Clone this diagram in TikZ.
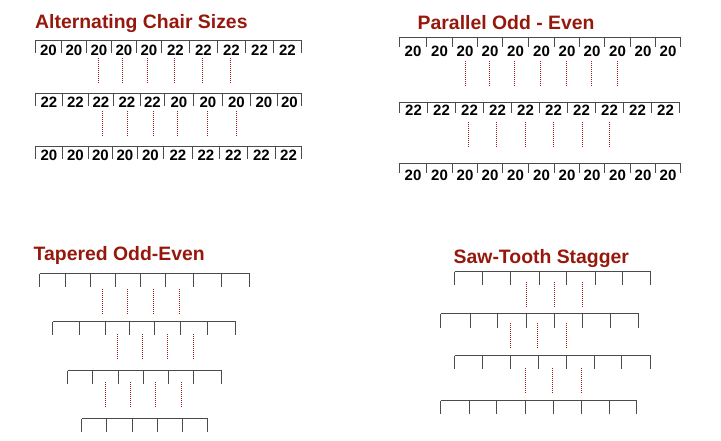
\documentclass[tikz,border=0pt]{standalone}
\usepackage{fontspec}
\setmainfont{Liberation Sans}
\definecolor{titleRed}{RGB}{150,24,12}
\definecolor{aisleRed}{RGB}{165,30,30}
\definecolor{seatGray}{RGB}{75,75,75}
\tikzstyle{seatLine}=[draw=seatGray, line width=1pt]
\tikzstyle{aisleDots}=[draw=aisleRed, line width=1.6pt, dash pattern=on 1pt off 1pt]
\tikzstyle{titleStyle}=[anchor=base west, inner sep=0pt, text=titleRed, font=\fontsize{19.4}{19.4}\selectfont\bfseries]
\tikzstyle{sizeStyle}=[anchor=base, inner sep=0pt, font=\fontsize{15}{15}\selectfont\bfseries]

\begin{document}
\begin{tikzpicture}[x=1pt, y=-1pt]
\useasboundingbox (0,0) rectangle (721,441);

% alternating chair sizes
\node[titleStyle] (t1) at (35,28.5) {Alternating Chair Sizes};
\foreach \l/\r/\n [count=\i] in {35.5/61.5/20, 61.5/86.5/20, 86.5/111.5/20, 111.5/136.5/20, 136.5/161.5/20, 161.5/189.5/22, 189.5/217.5/22, 217.5/245.5/22, 245.5/273.5/22, 273.5/301.5/22}
  {\draw[seatLine] (\l,53) -- (\l,40.5) -- (\r,40.5) -- (\r,53);
   \node[sizeStyle] (aR1v\i) at ({(\l+\r)/2},56) {\n};}
\foreach \l/\r/\n [count=\i] in {35.5/62.5/22, 62.5/88.5/22, 88.5/113.5/22, 113.5/140.5/22, 140.5/164.5/22, 164.5/193.5/20, 193.5/222.5/20, 222.5/250.5/20, 250.5/277.5/20, 277.5/301.5/20}
  {\draw[seatLine] (\l,106.5) -- (\l,93.5) -- (\r,93.5) -- (\r,106.5);
   \node[sizeStyle] (aR2v\i) at ({(\l+\r)/2},107.5) {\n};}
\foreach \l/\r/\n [count=\i] in {35.5/62.5/20, 62.5/88.5/20, 88.5/112.5/20, 112.5/137.5/20, 137.5/163.5/20, 163.5/192.5/22, 192.5/219.5/22, 219.5/247.5/22, 247.5/275.5/22, 275.5/301.5/22}
  {\draw[seatLine] (\l,159.5) -- (\l,146.5) -- (\r,146.5) -- (\r,159.5);
   \node[sizeStyle] (aR3v\i) at ({(\l+\r)/2},160.5) {\n};}
\foreach \x in {98.5, 122.5, 147.5, 174.5, 202.5, 230.5}
  \draw[aisleDots] (\x,58) -- (\x,83);
\foreach \x in {102.5, 127.5, 153.5, 177.5, 207.5, 236.5}
  \draw[aisleDots] (\x,111) -- (\x,136);

% parallel odd - even
\node[titleStyle] (t2) at (417.5,29.5) {Parallel Odd - Even};
\foreach \l/\r [count=\i] in {399.5/426.5, 426.5/452.5, 452.5/477.5, 477.5/502.5, 502.5/528.5, 528.5/554.5, 554.5/579.5, 579.5/604.5, 604.5/630.5, 630.5/655.5, 655.5/680.5}
  {\draw[seatLine] (\l,47) -- (\l,37.5) -- (\r,37.5) -- (\r,47);
   \node[sizeStyle] (bR1v\i) at ({(\l+\r)/2},56.5) {20};}
\foreach \l/\r [count=\i] in {399.5/427.5, 427.5/455.5, 455.5/483.5, 483.5/511.5, 511.5/539.5, 539.5/567.5, 567.5/595.5, 595.5/623.5, 623.5/651.5, 651.5/679.5}
  {\draw[seatLine] (\l,113) -- (\l,102.5) -- (\r,102.5) -- (\r,113);
   \node[sizeStyle] (bR2v\i) at ({(\l+\r)/2},116) {22};}
\foreach \l/\r [count=\i] in {399.5/426.5, 426.5/452.5, 452.5/477.5, 477.5/502.5, 502.5/528.5, 528.5/554.5, 554.5/579.5, 579.5/604.5, 604.5/630.5, 630.5/655.5, 655.5/680.5}
  {\draw[seatLine] (\l,173) -- (\l,163.5) -- (\r,163.5) -- (\r,173);
   \node[sizeStyle] (bR3v\i) at ({(\l+\r)/2},180.5) {20};}
\foreach \x in {465.5, 489.5, 514.5, 540.5, 566.5, 591.5, 617.5}
  \draw[aisleDots] (\x,61) -- (\x,86);
\foreach \x in {468.5, 496.5, 525.5, 553.5, 582.5, 609.5}
  \draw[aisleDots] (\x,122) -- (\x,147);

% tapered odd-even
\node[titleStyle] (t3) at (33.5,260) {Tapered Odd-Even};
\draw[seatLine] (39.5,273.5) -- (249.5,273.5);
\foreach \x in {39.5, 65.5, 90.5, 115.5, 140.5, 165.5, 193.5, 221.5, 249.5}
  \draw[seatLine] (\x,273.5) -- (\x,287);
\draw[seatLine] (52.5,321.5) -- (235.5,321.5);
\foreach \x in {52.5, 79.5, 105.5, 129.5, 154.5, 180.5, 207.5, 235.5}
  \draw[seatLine] (\x,321.5) -- (\x,335);
\draw[seatLine] (67.5,370.5) -- (221.5,370.5);
\foreach \x in {67.5, 92.5, 118.5, 143.5, 168.5, 193.5, 221.5}
  \draw[seatLine] (\x,370.5) -- (\x,384);
\draw[seatLine] (81.5,418.5) -- (207.5,418.5);
\foreach \x in {81.5, 106.5, 132.5, 157.5, 182.5, 207.5}
  \draw[seatLine] (\x,418.5) -- (\x,432);
\foreach \x in {102.5, 127.5, 153.5, 179.5}
  \draw[aisleDots] (\x,289) -- (\x,314);
\foreach \x in {117.5, 142.5, 167.5, 193.5}
  \draw[aisleDots] (\x,334) -- (\x,360);
\foreach \x in {105.5, 130.5, 155.5, 181.5}
  \draw[aisleDots] (\x,382) -- (\x,407);

% saw-tooth stagger
\node[titleStyle] (t4) at (453.5,264) {Saw-Tooth Stagger};
\draw[seatLine] (454.5,271.5) -- (650.5,271.5);
\foreach \x in {454.5, 482.5, 510.5, 539.5, 566.5, 595.5, 622.5, 650.5}
  \draw[seatLine] (\x,271.5) -- (\x,285);
\draw[seatLine] (440.5,313.5) -- (638.5,313.5);
\foreach \x in {440.5, 470.5, 497.5, 526.5, 554.5, 582.5, 610.5, 638.5}
  \draw[seatLine] (\x,313.5) -- (\x,327.5);
\draw[seatLine] (454.5,355.5) -- (650.5,355.5);
\foreach \x in {454.5, 482.5, 510.5, 538.5, 566.5, 594.5, 621.5, 650.5}
  \draw[seatLine] (\x,355.5) -- (\x,368.5);
\draw[seatLine] (440.5,400.5) -- (636.5,400.5);
\foreach \x in {440.5, 469.5, 496.5, 525.5, 553.5, 581.5, 609.5, 636.5}
  \draw[seatLine] (\x,400.5) -- (\x,414);
\foreach \x in {526.5, 554.5, 582.5}
  \draw[aisleDots] (\x,282) -- (\x,308);
\foreach \x in {510.5, 537.5, 566.5}
  \draw[aisleDots] (\x,323) -- (\x,349);
\foreach \x in {525.5, 552.5, 581.5}
  \draw[aisleDots] (\x,368) -- (\x,394);
\end{tikzpicture}
\end{document}
